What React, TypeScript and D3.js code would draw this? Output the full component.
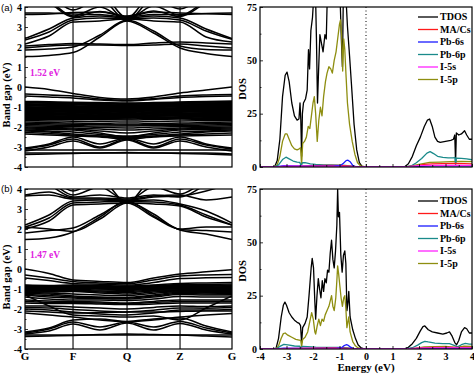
import React, { useRef, useEffect } from 'react';
import * as d3 from 'd3';

const W = 474;
const H = 374;

// k-path: high-symmetry points and the 9 sampled k positions (path fraction)
const kLabels = ['G', 'F', 'Q', 'Z', 'G'];
const kSym = [0, 0.232, 0.493, 0.749, 1.0];
const kSample = [0, 0.116, 0.232, 0.362, 0.493, 0.621, 0.749, 0.875, 1.0];

// band energies (eV) at kSample, panel (a)
const bandsA = [
  [1.52, 1.58, 1.72, 2.5, 3.3, 2.7, 1.95, 1.68, 1.52],
  [1.85, 1.9, 2.0, 2.6, 3.35, 2.8, 2.05, 1.88, 1.85],
  [1.95, 2.05, 2.1, 2.1, 2.08, 2.1, 2.15, 2.05, 1.95],
  [2.05, 2.12, 2.18, 2.15, 2.12, 2.2, 2.25, 2.2, 2.15],
  [2.15, 2.55, 3.25, 3.3, 3.4, 3.3, 3.25, 2.5, 2.25],
  [2.35, 2.75, 3.35, 3.45, 3.42, 3.45, 3.35, 2.8, 2.38],
  [2.42, 2.9, 3.45, 3.55, 3.45, 3.55, 3.45, 2.9, 2.42],
  [3.7, 3.7, 3.65, 3.62, 3.5, 3.62, 3.62, 3.68, 3.7],
  [3.62, 3.65, 3.72, 3.75, 3.52, 3.75, 3.7, 3.66, 3.62],
  [4.6, 4.2, 3.5, 3.78, 3.55, 3.8, 3.52, 4.2, 4.6],
  [4.8, 4.3, 3.55, 4.0, 3.38, 4.05, 3.58, 4.3, 4.8],
  [5.0, 4.6, 3.85, 4.4, 3.32, 4.4, 3.9, 4.6, 5.0],
  [5.2, 4.8, 4.3, 4.7, 3.45, 4.7, 4.3, 4.8, 5.2],
  [0.0, -0.12, -0.32, -0.52, -0.6, -0.5, -0.3, -0.15, 0.0],
  [-0.35, -0.4, -0.45, -0.6, -0.66, -0.58, -0.45, -0.4, -0.38],
  [-0.45, -0.5, -0.55, -0.65, -0.7, -0.62, -0.52, -0.48, -0.45],
  [-0.72, -0.74, -0.76, -0.78, -0.8, -0.78, -0.75, -0.72, -0.7],
  [-0.76, -0.77, -0.79, -0.81, -0.83, -0.81, -0.78, -0.76, -0.74],
  [-0.8, -0.81, -0.82, -0.84, -0.86, -0.84, -0.82, -0.8, -0.78],
  [-0.84, -0.85, -0.86, -0.88, -0.9, -0.88, -0.86, -0.84, -0.82],
  [-0.88, -0.88, -0.9, -0.92, -0.93, -0.92, -0.9, -0.88, -0.86],
  [-0.91, -0.92, -0.94, -0.96, -0.97, -0.95, -0.93, -0.92, -0.9],
  [-0.95, -0.96, -0.97, -0.99, -1.0, -0.99, -0.97, -0.95, -0.94],
  [-0.99, -1.0, -1.01, -1.03, -1.04, -1.02, -1.0, -0.99, -0.98],
  [-1.02, -1.03, -1.04, -1.06, -1.07, -1.06, -1.04, -1.03, -1.02],
  [-1.06, -1.07, -1.08, -1.1, -1.11, -1.09, -1.08, -1.07, -1.06],
  [-1.1, -1.1, -1.12, -1.13, -1.14, -1.13, -1.11, -1.1, -1.1],
  [-1.14, -1.14, -1.16, -1.17, -1.18, -1.17, -1.15, -1.14, -1.13],
  [-1.17, -1.18, -1.19, -1.2, -1.22, -1.2, -1.19, -1.18, -1.17],
  [-1.21, -1.22, -1.23, -1.24, -1.26, -1.24, -1.22, -1.21, -1.21],
  [-1.25, -1.25, -1.26, -1.28, -1.3, -1.27, -1.26, -1.25, -1.25],
  [-1.29, -1.29, -1.3, -1.32, -1.34, -1.31, -1.3, -1.29, -1.28],
  [-1.32, -1.33, -1.34, -1.36, -1.38, -1.35, -1.33, -1.32, -1.32],
  [-1.36, -1.37, -1.38, -1.4, -1.42, -1.39, -1.37, -1.36, -1.36],
  [-1.4, -1.4, -1.41, -1.43, -1.45, -1.42, -1.4, -1.4, -1.4],
  [-1.44, -1.44, -1.45, -1.47, -1.49, -1.44, -1.43, -1.44, -1.44],
  [-1.47, -1.48, -1.49, -1.5, -1.52, -1.45, -1.46, -1.47, -1.47],
  [-1.51, -1.52, -1.53, -1.54, -1.53, -1.49, -1.5, -1.51, -1.51],
  [-1.55, -1.55, -1.56, -1.58, -1.55, -1.52, -1.53, -1.55, -1.55],
  [-1.58, -1.59, -1.59, -1.61, -1.6, -1.57, -1.57, -1.58, -1.58],
  [-1.62, -1.62, -1.62, -1.64, -1.65, -1.62, -1.6, -1.62, -1.62],
  [-1.68, -1.7, -1.71, -1.73, -1.75, -1.72, -1.7, -1.69, -1.68],
  [-1.75, -1.78, -1.8, -1.82, -1.85, -1.82, -1.8, -1.78, -1.75],
  [-1.82, -1.84, -1.86, -1.88, -1.9, -1.87, -1.86, -1.84, -1.82],
  [-1.88, -1.9, -1.92, -1.95, -1.95, -1.93, -1.92, -1.9, -1.88],
  [-1.94, -1.96, -1.98, -2.02, -2.05, -2.0, -1.98, -1.96, -1.94],
  [-2.0, -2.02, -2.05, -2.1, -2.15, -2.1, -2.05, -2.02, -2.0],
  [-2.05, -2.07, -2.1, -2.2, -2.3, -2.2, -2.1, -2.07, -2.05],
  [-2.1, -2.12, -2.15, -2.3, -2.5, -2.3, -2.15, -2.12, -2.1],
  [-2.15, -2.2, -2.25, -2.38, -2.45, -2.38, -2.25, -2.2, -2.15],
  [-2.2, -2.25, -2.35, -2.45, -2.55, -2.45, -2.35, -2.25, -2.2],
  [-2.28, -2.32, -2.4, -2.45, -2.5, -2.48, -2.4, -2.35, -2.3],
  [-2.35, -2.4, -2.45, -2.5, -2.6, -2.5, -2.45, -2.42, -2.4],
  [-3.05, -2.85, -2.5, -2.85, -2.55, -2.85, -2.5, -2.85, -3.05],
  [-3.1, -2.9, -2.6, -3.0, -2.6, -3.0, -2.6, -2.9, -3.1],
  [-3.2, -3.0, -2.7, -3.05, -2.65, -3.05, -2.7, -3.0, -3.2],
  [-3.15, -3.15, -3.15, -3.15, -3.15, -3.15, -3.15, -3.15, -3.15],
  [-3.3, -3.3, -3.3, -3.3, -3.3, -3.3, -3.3, -3.3, -3.35],
  [-3.38, -3.35, -3.32, -3.3, -3.28, -3.3, -3.32, -3.35, -3.4],
];

// band energies (eV) at kSample, panel (b)
const bandsB = [
  [1.47, 1.55, 1.85, 2.6, 3.4, 2.65, 1.95, 1.75, 1.47],
  [1.8, 1.92, 2.05, 2.7, 3.35, 2.75, 1.98, 1.92, 1.85],
  [2.1, 2.0, 1.88, 2.5, 3.3, 2.6, 2.0, 2.1, 2.1],
  [2.0, 2.4, 3.2, 3.25, 3.3, 3.25, 3.15, 2.6, 2.2],
  [2.1, 2.55, 3.3, 3.35, 3.38, 3.35, 3.2, 2.7, 2.2],
  [2.2, 2.7, 3.4, 3.45, 3.42, 3.45, 3.25, 2.9, 2.3],
  [3.65, 3.7, 3.5, 3.5, 3.45, 3.6, 3.65, 3.9, 4.3],
  [3.7, 3.85, 3.55, 3.55, 3.5, 3.65, 3.7, 3.45, 3.6],
  [4.6, 4.2, 3.6, 3.7, 3.55, 3.7, 3.6, 4.2, 4.6],
  [4.8, 4.4, 3.7, 4.1, 3.4, 4.1, 3.75, 4.4, 4.8],
  [5.0, 4.6, 3.9, 4.5, 3.3, 4.5, 4.0, 4.6, 5.0],
  [0.0, -0.22, -0.55, -0.62, -0.68, -0.45, -0.25, -0.14, -0.04],
  [-0.3, -0.45, -0.62, -0.7, -0.74, -0.55, -0.35, -0.3, -0.28],
  [-0.45, -0.58, -0.72, -0.76, -0.8, -0.68, -0.48, -0.44, -0.42],
  [-0.8, -0.82, -0.8, -0.82, -0.85, -0.8, -0.72, -0.7, -0.68],
  [-0.83, -0.85, -0.83, -0.85, -0.87, -0.83, -0.78, -0.77, -0.75],
  [-0.86, -0.88, -0.86, -0.88, -0.9, -0.86, -0.82, -0.82, -0.8],
  [-0.89, -0.91, -0.9, -0.92, -0.93, -0.89, -0.86, -0.86, -0.84],
  [-0.92, -0.94, -0.93, -0.95, -0.96, -0.92, -0.9, -0.9, -0.88],
  [-0.96, -0.97, -0.95, -0.97, -0.99, -0.95, -0.93, -0.94, -0.92],
  [-1.0, -1.0, -0.98, -1.0, -1.02, -0.98, -0.96, -0.97, -0.96],
  [-1.03, -1.04, -1.02, -1.05, -1.07, -1.02, -1.0, -1.0, -1.0],
  [-1.06, -1.08, -1.06, -1.1, -1.12, -1.06, -1.04, -1.04, -1.04],
  [-1.1, -1.11, -1.09, -1.15, -1.18, -1.1, -1.07, -1.08, -1.08],
  [-1.14, -1.15, -1.12, -1.2, -1.25, -1.15, -1.1, -1.12, -1.12],
  [-1.18, -1.2, -1.25, -1.3, -1.33, -1.22, -1.14, -1.16, -1.17],
  [-1.22, -1.25, -1.35, -1.4, -1.42, -1.3, -1.18, -1.2, -1.22],
  [-1.26, -1.33, -1.4, -1.44, -1.46, -1.35, -1.23, -1.25, -1.26],
  [-1.3, -1.4, -1.45, -1.48, -1.5, -1.4, -1.28, -1.3, -1.3],
  [-1.4, -1.5, -1.55, -1.55, -1.58, -1.5, -1.38, -1.4, -1.4],
  [-1.55, -1.6, -1.62, -1.65, -1.7, -1.62, -1.55, -1.55, -1.55],
  [-1.62, -1.66, -1.67, -1.7, -1.74, -1.68, -1.62, -1.62, -1.62],
  [-1.7, -1.72, -1.72, -1.75, -1.78, -1.75, -1.7, -1.7, -1.7],
  [-1.85, -1.85, -1.9, -1.95, -2.0, -1.92, -1.85, -1.88, -1.85],
  [-1.93, -1.95, -2.02, -2.1, -2.15, -2.06, -1.95, -1.96, -1.93],
  [-2.0, -2.05, -2.15, -2.25, -2.3, -2.2, -2.05, -2.05, -2.02],
  [-2.1, -2.15, -2.2, -2.18, -2.15, -2.15, -2.12, -2.1, -2.1],
  [-1.3, -1.85, -2.3, -2.35, -2.4, -2.35, -2.55, -1.95, -1.35],
  [-2.2, -2.3, -2.4, -2.55, -2.65, -2.55, -2.4, -2.3, -2.22],
  [-3.15, -2.95, -2.55, -2.5, -2.62, -2.5, -2.45, -2.85, -3.15],
  [-3.2, -3.0, -2.65, -2.9, -2.65, -2.9, -2.62, -2.95, -3.2],
  [-3.25, -3.1, -2.75, -3.05, -2.7, -3.05, -2.72, -3.05, -3.25],
  [-3.3, -3.3, -3.3, -3.3, -3.3, -3.3, -3.3, -3.3, -3.3],
  [-3.38, -3.35, -3.32, -3.28, -3.25, -3.28, -3.3, -3.35, -3.4],
];

const dosKeys = ['TDOS', 'MA/Cs', 'Pb-6s', 'Pb-6p', 'I-5s', 'I-5p'];
const dosColors = ['#000000', '#ff1a1a', '#1a1aff', '#1a8a8a', '#ff22ff', '#8e8e10'];

// [energy eV, DOS] pairs, panel (a)
const tdosA = [[-4, 0], [-3.45, 0], [-3.35, 3], [-3.25, 13], [-3.15, 33], [-3.05, 43], [-2.98, 44.5], [-2.9, 40], [-2.8, 30], [-2.7, 24], [-2.6, 22], [-2.53, 22.5], [-2.49, 30], [-2.46, 22], [-2.43, 5], [-2.4, 25], [-2.36, 30], [-2.28, 32], [-2.22, 36], [-2.17, 55], [-2.13, 46], [-2.08, 64], [-2.02, 70], [-1.97, 80], [-1.92, 90], [-1.87, 60], [-1.83, 30], [-1.79, 45], [-1.74, 62], [-1.68, 58], [-1.62, 54], [-1.55, 62], [-1.5, 60], [-1.45, 85], [-1.3, 95], [-1.1, 90], [-0.98, 80], [-0.93, 60], [-0.89, 47], [-0.85, 85], [-0.8, 90], [-0.75, 78], [-0.7, 66], [-0.62, 52], [-0.55, 39], [-0.45, 20], [-0.35, 8], [-0.25, 2], [-0.15, 0.3], [0, 0], [1.45, 0], [1.6, 1.5], [1.75, 5], [1.9, 10], [2.05, 14], [2.2, 19], [2.32, 22], [2.4, 22.5], [2.5, 19], [2.6, 14], [2.7, 12], [2.8, 11.5], [3.0, 12], [3.2, 12.5], [3.3, 13], [3.35, 15], [3.38, 2], [3.41, 16], [3.5, 15], [3.6, 15.5], [3.72, 17], [3.8, 15], [3.9, 13], [4, 13]];
const macsA = [[-4, 0], [-3.3, 0], [-3.0, 0.3], [-2.5, 0.4], [-2, 0.6], [-1.5, 0.8], [-1.0, 0.8], [-0.6, 0.4], [-0.3, 0], [1.5, 0], [1.9, 0.5], [2.2, 1.2], [2.5, 1.5], [2.9, 1.6], [3.3, 1.7], [3.7, 1.6], [4, 1.5]];
const pb6sA = [[-4, 0], [-3.4, 0], [-3.1, 0.6], [-2.8, 0.5], [-2.4, 0.4], [-1.8, 0.4], [-1.2, 0.5], [-0.95, 0.8], [-0.85, 1.8], [-0.75, 3], [-0.68, 3.2], [-0.6, 2.5], [-0.5, 0.8], [-0.4, 0.2], [-0.3, 0], [1.5, 0], [2.0, 0.3], [2.5, 0.5], [3.0, 0.5], [3.5, 0.5], [4, 0.5]];
const pb6pA = [[-4, 0], [-3.45, 0], [-3.3, 1], [-3.15, 3.5], [-3.02, 4.6], [-2.9, 3.8], [-2.75, 2.8], [-2.6, 2.3], [-2.5, 2.2], [-2.45, 0.6], [-2.4, 2], [-2.3, 2], [-2.1, 1.5], [-1.9, 1.2], [-1.6, 1], [-1.3, 1], [-1.0, 0.9], [-0.8, 0.8], [-0.6, 0.5], [-0.4, 0.2], [-0.2, 0], [1.5, 0], [1.7, 0.5], [1.9, 2], [2.1, 4], [2.3, 6.5], [2.42, 7.2], [2.55, 6.3], [2.7, 5], [2.9, 4.5], [3.1, 4.3], [3.3, 4.3], [3.36, 4.5], [3.38, 1], [3.41, 4.2], [3.6, 4], [3.8, 3.8], [4, 3.4]];
const i5sA = [[-4, 0], [-3.3, 0], [-3.1, 0.4], [-2.5, 0.4], [-1.5, 0.3], [-0.6, 0.3], [-0.3, 0], [1.5, 0], [2.0, 0.6], [2.5, 0.8], [3.0, 0.8], [3.5, 0.8], [4, 0.8]];
const i5pA = [[-4, 0], [-3.45, 0], [-3.35, 1], [-3.25, 5], [-3.15, 12], [-3.05, 15.5], [-2.98, 15.5], [-2.9, 13], [-2.8, 10], [-2.7, 8.5], [-2.6, 8], [-2.52, 8.5], [-2.47, 9], [-2.43, 1], [-2.39, 11], [-2.32, 12], [-2.25, 14], [-2.18, 19], [-2.12, 18], [-2.06, 24], [-2.0, 30], [-1.95, 33], [-1.9, 25], [-1.84, 12], [-1.78, 22], [-1.72, 28], [-1.66, 24], [-1.6, 33], [-1.53, 40], [-1.47, 44], [-1.4, 47], [-1.33, 46], [-1.27, 44], [-1.2, 50], [-1.13, 54], [-1.07, 60], [-1.0, 67], [-0.96, 69], [-0.92, 62], [-0.88, 45], [-0.84, 60], [-0.8, 55], [-0.75, 42], [-0.7, 30], [-0.62, 20], [-0.52, 12], [-0.42, 6], [-0.32, 2], [-0.2, 0.5], [0, 0], [1.5, 0], [1.8, 0.8], [2.1, 1.5], [2.4, 2.2], [2.8, 2.3], [3.2, 2.5], [3.6, 2.6], [4, 2.5]];

// [energy eV, DOS] pairs, panel (b)
const tdosB = [[-4, 0], [-3.4, 0], [-3.3, 5], [-3.2, 15], [-3.12, 20.5], [-3.06, 22], [-3.0, 20.5], [-2.9, 17], [-2.8, 15], [-2.7, 13.5], [-2.6, 12.5], [-2.52, 12], [-2.47, 11], [-2.43, 3], [-2.39, 10], [-2.3, 12], [-2.22, 15], [-2.15, 25], [-2.07, 38], [-2.03, 42.5], [-1.98, 38], [-1.93, 22], [-1.9, 14], [-1.85, 25], [-1.8, 33], [-1.75, 28], [-1.7, 24], [-1.65, 32], [-1.6, 27], [-1.55, 33], [-1.5, 31], [-1.45, 37], [-1.4, 36], [-1.35, 45], [-1.3, 51], [-1.25, 42], [-1.2, 38], [-1.15, 46], [-1.1, 58], [-1.07, 75], [-1.04, 62], [-1.0, 64], [-0.95, 44], [-0.9, 36], [-0.85, 44], [-0.8, 46], [-0.76, 40], [-0.72, 18], [-0.68, 22], [-0.65, 27], [-0.6, 15], [-0.5, 9], [-0.4, 5], [-0.3, 2], [-0.2, 0.7], [-0.1, 0.2], [0, 0], [1.45, 0], [1.6, 0.8], [1.75, 2.5], [1.9, 5], [2.05, 8.5], [2.15, 10.5], [2.22, 10.8], [2.35, 9], [2.5, 8], [2.7, 7.5], [2.9, 7], [3.05, 7.5], [3.15, 8], [3.25, 6], [3.35, 3], [3.42, 2], [3.5, 4], [3.6, 8], [3.72, 10], [3.8, 9.5], [3.9, 7.5], [4, 7.5]];
const macsB = [[-4, 0], [-3.3, 0], [-3, 0.2], [-2, 0.4], [-1.2, 0.5], [-0.6, 0.3], [-0.3, 0], [1.5, 0], [2.0, 0.4], [2.5, 0.7], [3, 0.8], [3.5, 0.8], [4, 0.8]];
const pb6sB = [[-4, 0], [-3.4, 0], [-3.1, 0.4], [-2.5, 0.3], [-1.8, 0.3], [-1.1, 0.4], [-0.9, 0.8], [-0.82, 1.6], [-0.75, 2], [-0.68, 1.8], [-0.6, 1], [-0.5, 0.3], [-0.35, 0], [1.5, 0], [2.0, 0.2], [3.0, 0.3], [4, 0.3]];
const pb6pB = [[-4, 0], [-3.4, 0], [-3.25, 1.2], [-3.1, 2.2], [-2.95, 1.9], [-2.7, 1.4], [-2.5, 1.3], [-2.45, 0.4], [-2.4, 1.2], [-2.2, 1.1], [-1.9, 0.9], [-1.5, 0.8], [-1.0, 0.7], [-0.7, 0.5], [-0.45, 0.2], [-0.25, 0], [1.5, 0], [1.75, 0.6], [1.95, 1.8], [2.1, 3], [2.22, 3.6], [2.35, 3.3], [2.6, 2.8], [2.9, 2.5], [3.15, 2.5], [3.35, 1.6], [3.45, 1], [3.6, 2], [3.75, 2.6], [3.9, 2.3], [4, 2.3]];
const i5sB = [[-4, 0], [-3.3, 0], [-3, 0.3], [-2, 0.3], [-1, 0.3], [-0.4, 0.1], [-0.2, 0], [1.5, 0], [2, 0.4], [2.5, 0.5], [3, 0.5], [3.5, 0.5], [4, 0.5]];
const i5pB = [[-4, 0], [-3.4, 0], [-3.3, 1.5], [-3.2, 5], [-3.12, 7.2], [-3.05, 7.5], [-2.95, 6.5], [-2.8, 5.5], [-2.65, 4.5], [-2.52, 4.2], [-2.46, 4], [-2.43, 1], [-2.39, 4.5], [-2.3, 5.5], [-2.2, 8], [-2.12, 13], [-2.05, 17], [-1.99, 14], [-1.93, 8], [-1.9, 7], [-1.84, 11], [-1.78, 14], [-1.72, 11], [-1.66, 14], [-1.6, 13], [-1.54, 16], [-1.47, 18], [-1.4, 20], [-1.34, 23], [-1.3, 25], [-1.25, 20], [-1.2, 18], [-1.14, 24], [-1.1, 32], [-1.07, 39], [-1.03, 35], [-0.99, 30], [-0.94, 24], [-0.89, 20], [-0.84, 24], [-0.8, 25], [-0.76, 19], [-0.72, 10], [-0.68, 13], [-0.65, 15], [-0.6, 8], [-0.5, 3.5], [-0.4, 1.5], [-0.3, 0.5], [-0.15, 0], [1.5, 0], [1.9, 0.4], [2.2, 1], [2.6, 1.1], [3.0, 1.2], [3.4, 0.8], [3.7, 1.3], [4, 1.2]];

const bandTicks = [-4, -3, -2, -1, 0, 1, 2, 3, 4];
const dosTicks = [0, 25, 50, 75];
const energyTicks = [-4, -3, -2, -1, 0, 1, 2, 3, 4];

const panels = [
  { id: 'a', top: 7, bottom: 167, bands: bandsA, dos: [tdosA, macsA, pb6sA, pb6pA, i5sA, i5pA], gap: '1.52 eV', gapY: 76, label: '(a)', labelY: 11, legendTop: 17, bottomLabels: false },
  { id: 'b', top: 189, bottom: 349, bands: bandsB, dos: [tdosB, macsB, pb6sB, pb6pB, i5sB, i5pB], gap: '1.47 eV', gapY: 258, label: '(b)', labelY: 192, legendTop: 201, bottomLabels: true },
];

const serif = "'Liberation Serif', 'DejaVu Serif', serif";

const App = () => {
  const svgRef = useRef(null);

  useEffect(() => {
    const svg = d3.select(svgRef.current);
    svg.selectAll('*').remove();
    svg.append('rect').attr('width', W).attr('height', H).attr('fill', 'white');

    const xK = d3.scaleLinear().domain([0, 1]).range([25, 232]);
    const xD = d3.scaleLinear().domain([-4, 4]).range([260, 472]);

    const styleAxis = (g, size) => {
      g.attr('font-family', serif).attr('font-size', size).attr('font-weight', 'bold');
      g.select('.domain').remove();
      g.selectAll('line').attr('stroke', '#000').attr('stroke-width', 0.8);
      g.selectAll('text').attr('fill', '#000');
    };

    panels.forEach(p => {
      const yE = d3.scaleLinear().domain([-4, 4]).range([p.bottom, p.top]);
      const yD = d3.scaleLinear().domain([0, 75]).range([p.bottom, p.top]);

      // ---- band structure ----
      const clipB = `clip-band-${p.id}`;
      svg.append('clipPath').attr('id', clipB).append('rect')
        .attr('x', xK(0)).attr('y', p.top).attr('width', xK(1) - xK(0)).attr('height', p.bottom - p.top);

      const bandLine = d3.line()
        .x((d, i) => xK(kSample[i]))
        .y(d => yE(d))
        .curve(d3.curveMonotoneX);

      svg.append('g').attr('clip-path', `url(#${clipB})`)
        .selectAll('path').data(p.bands).enter().append('path')
        .attr('d', d => bandLine(d))
        .attr('fill', 'none').attr('stroke', '#000').attr('stroke-width', 1.5);

      svg.append('g').selectAll('line').data(kSym.slice(1, -1)).enter().append('line')
        .attr('x1', d => xK(d)).attr('x2', d => xK(d))
        .attr('y1', p.top).attr('y2', p.bottom)
        .attr('stroke', '#000').attr('stroke-width', 1.1);

      svg.append('rect')
        .attr('x', xK(0)).attr('y', p.top).attr('width', xK(1) - xK(0)).attr('height', p.bottom - p.top)
        .attr('fill', 'none').attr('stroke', '#000').attr('stroke-width', 1.2);

      const bandAxis = svg.append('g').attr('transform', `translate(${xK(0)},0)`)
        .call(d3.axisLeft(yE).tickValues(bandTicks).tickSize(-3).tickPadding(3).tickFormat(d => String(d)));
      styleAxis(bandAxis, 10);

      svg.append('g')
        .attr('transform', `translate(${xK(0)},0)`)
        .call(g => styleAxis(g.call(d3.axisLeft(yE).tickValues(bandTicks.slice(0, -1).map(d => d + 0.5)).tickSize(-1.5).tickFormat(() => '')), 10));

      if (p.bottomLabels) {
        svg.append('g').selectAll('text').data(kSym).enter().append('text')
          .attr('x', d => xK(d)).attr('y', p.bottom + 11)
          .attr('text-anchor', 'middle')
          .attr('font-family', serif).attr('font-size', 11).attr('font-weight', 'bold')
          .text((d, i) => kLabels[i]);
      }

      svg.append('text')
        .attr('transform', `translate(10,${(p.top + p.bottom) / 2 + 8}) rotate(-90)`)
        .attr('text-anchor', 'middle')
        .attr('font-family', serif).attr('font-size', 10.5).attr('font-weight', 'bold')
        .text('Band gap (eV)');

      svg.append('text')
        .attr('x', 30).attr('y', p.gapY)
        .attr('font-family', serif).attr('font-size', 9.5).attr('font-weight', 'bold')
        .attr('fill', '#e020e0')
        .text(p.gap);

      svg.append('text')
        .attr('x', 1).attr('y', p.labelY)
        .attr('font-family', "'Liberation Sans', Arial, sans-serif").attr('font-size', 9.5)
        .text(p.label);

      // ---- DOS ----
      const clipD = `clip-dos-${p.id}`;
      svg.append('clipPath').attr('id', clipD).append('rect')
        .attr('x', xD(-4)).attr('y', p.top).attr('width', xD(4) - xD(-4)).attr('height', p.bottom - p.top);

      const dosLine = d3.line()
        .x(d => xD(d[0]))
        .y(d => yD(d[1]));

      const order = [0, 5, 3, 1, 2, 4];
      svg.append('g').attr('clip-path', `url(#${clipD})`)
        .selectAll('path').data(order).enter().append('path')
        .attr('d', i => dosLine(p.dos[i]))
        .attr('fill', 'none')
        .attr('stroke', i => dosColors[i])
        .attr('stroke-width', 1.3)
        .attr('stroke-linejoin', 'round');

      svg.append('line')
        .attr('x1', xD(0)).attr('x2', xD(0))
        .attr('y1', p.top).attr('y2', p.bottom)
        .attr('stroke', '#000').attr('stroke-width', 1)
        .attr('stroke-dasharray', '1,2.5');

      svg.append('rect')
        .attr('x', xD(-4)).attr('y', p.top).attr('width', xD(4) - xD(-4)).attr('height', p.bottom - p.top)
        .attr('fill', 'none').attr('stroke', '#000').attr('stroke-width', 1.2);

      const dosAxis = svg.append('g').attr('transform', `translate(${xD(-4)},0)`)
        .call(d3.axisLeft(yD).tickValues(dosTicks).tickSize(-3).tickPadding(3));
      styleAxis(dosAxis, 10);

      svg.append('g').attr('transform', `translate(${xD(-4)},0)`)
        .call(g => styleAxis(g.call(d3.axisLeft(yD).tickValues([12.5, 37.5, 62.5]).tickSize(-1.5).tickFormat(() => '')), 10));

      const eAxis = svg.append('g').attr('transform', `translate(0,${p.bottom})`)
        .call(d3.axisBottom(xD).tickValues(energyTicks).tickSize(-3).tickPadding(4)
          .tickFormat(d => (p.bottomLabels ? String(d) : '')));
      styleAxis(eAxis, 10);

      svg.append('g').attr('transform', `translate(0,${p.bottom})`)
        .call(g => styleAxis(g.call(d3.axisBottom(xD).tickValues(energyTicks.slice(0, -1).map(d => d + 0.5)).tickSize(-2).tickFormat(() => '')), 10));

      svg.append('text')
        .attr('transform', `translate(246,${(p.top + p.bottom) / 2 + 2}) rotate(-90)`)
        .attr('text-anchor', 'middle')
        .attr('font-family', serif).attr('font-size', 10.5).attr('font-weight', 'bold')
        .text('DOS');

      if (p.bottomLabels) {
        svg.append('text')
          .attr('x', xD(0)).attr('y', 371)
          .attr('text-anchor', 'middle')
          .attr('font-family', serif).attr('font-size', 11).attr('font-weight', 'bold')
          .text('Energy (eV)');
      }

      // legend
      const legend = svg.append('g').attr('transform', `translate(418,${p.legendTop})`);
      const item = legend.selectAll('g').data(dosKeys).enter().append('g')
        .attr('transform', (d, i) => `translate(0,${i * 12.5})`);
      item.append('line')
        .attr('x1', 0).attr('x2', 20).attr('y1', 0).attr('y2', 0)
        .attr('stroke', (d, i) => dosColors[i]).attr('stroke-width', 1.3);
      item.append('text')
        .attr('x', 22).attr('y', 0).attr('dy', '0.33em')
        .attr('font-family', serif).attr('font-size', 10).attr('font-weight', 'bold')
        .text(d => d);
    });
  }, []);

  return (
    <svg
      ref={svgRef}
      width={W}
      height={H}
      style={{ position: 'absolute', left: 0, top: 0, display: 'block' }}
    />
  );
};

export default App;
